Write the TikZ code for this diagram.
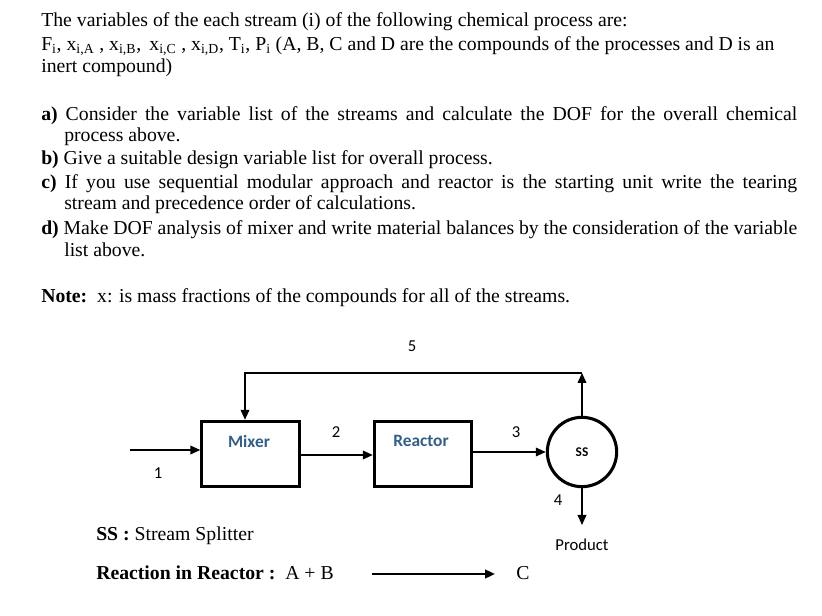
\documentclass[tikz,border=0pt]{standalone}
\usepackage{fontspec}
\setmainfont{Liberation Serif}
\newfontfamily\calfont{Carlito}
\usetikzlibrary{arrows.meta}
\newcommand{\jl}[2]{\parbox{#1}{\parfillskip=0pt #2}}
\definecolor{ublue}{HTML}{2F5F8F}
\tikzset{
  txt/.style={anchor=base west,inner sep=0pt,font=\fontsize{14.8pt}{17pt}\selectfont},
  lbl/.style={inner sep=0pt,font=\calfont\fontsize{12.5pt}{14pt}\selectfont},
  unit/.style={draw,line width=2.3pt,minimum width=73pt,minimum height=49pt,inner sep=0pt},
  uname/.style={inner sep=0pt,font=\calfont\bfseries\fontsize{13pt}{15pt}\selectfont,text=ublue},
  flow/.style={line width=1.2pt,-{Triangle[length=7.5pt,width=6.5pt]}}
}
\begin{document}
\begin{tikzpicture}[x=0.75pt,y=-0.75pt]
\useasboundingbox (0,0) rectangle (822,616);
\node[txt] (t1) at (41,27) {The variables of the each stream (i) of the following chemical process are:};
\node[txt] (t2) at (41,51) {F\textsubscript{i}, x\textsubscript{i,A} , x\textsubscript{i,B},\, x\textsubscript{i,C} , x\textsubscript{i,D}, T\textsubscript{i}, P\textsubscript{i} (A, B, C and D are the compounds of the processes and D is an};
\node[txt] (t3) at (41,73) {inert compound)};
\node[txt] (a1) at (41,120) {\jl{567pt}{\textbf{a)} Consider the variable list of the streams and calculate the DOF for the overall chemical}};
\node[txt] (a2) at (64,142) {process above.};
\node[txt] (b1) at (41,165) {\textbf{b)} Give a suitable design variable list for overall process.};
\node[txt] (c1) at (41,188) {\jl{567pt}{\textbf{c)} If you use sequential modular approach and reactor is the starting unit write the tearing}};
\node[txt] (c2) at (64,210) {stream and precedence order of calculations.};
\node[txt] (d1) at (41,234) {\jl{567pt}{\textbf{d)} Make DOF analysis of mixer and write material balances by the consideration of the variable}};
\node[txt] (d2) at (64,257) {list above.};
\node[txt] (note) at (41,303) {\textbf{Note:}\, x: is mass fractions of the compounds for all of the streams.};

\node[unit] (mixer) at (250.5,454) {};
\node[uname] (mixl) at (249,441) {Mixer};
\node[unit] (reactor) at (423,454) {};
\node[uname] (reacl) at (421,441) {Reactor};
\node[draw,circle,line width=2.3pt,minimum size=52pt,inner sep=0pt,font=\calfont\bfseries\fontsize{10pt}{11pt}\selectfont] (ss) at (582,452) {SS};

\coordinate (in1) at (130,450);
\draw[flow] (in1) -- (in1 -| mixer.west);
\draw[flow] (mixer.east |- 0,455) -- (reactor.west |- 0,455);
\draw[flow] (reactor.east |- 0,452) -- (ss.west);
\coordinate (top) at (582,373);
\coordinate (topl) at (245,373);
\draw[flow] (ss.north) -- (top);
\draw[flow] (top) -- (topl) -- (topl |- mixer.north);
\coordinate (prod) at (582,525);
\draw[flow] (ss.south) -- (prod);

\node[lbl] (n1) at (158,473) {1};
\node[lbl] (n2) at (336,432) {2};
\node[lbl] (n3) at (516,432) {3};
\node[lbl] (n4) at (558,500) {4};
\node[lbl] (n5) at (412,346) {5};
\node[lbl] (pr) at (582,545) {Product};

\node[txt] (ssl) at (96,541) {\textbf{SS :} Stream Splitter};
\node[txt] (rx) at (96,580) {\textbf{Reaction in Reactor :}\, A + B};
\node[txt] (cc) at (516,580) {C};
\coordinate (ra) at (372,574);
\coordinate (rb) at (495,574);
\draw[flow,line width=1.7pt] (ra) -- (rb);
\end{tikzpicture}
\end{document}
